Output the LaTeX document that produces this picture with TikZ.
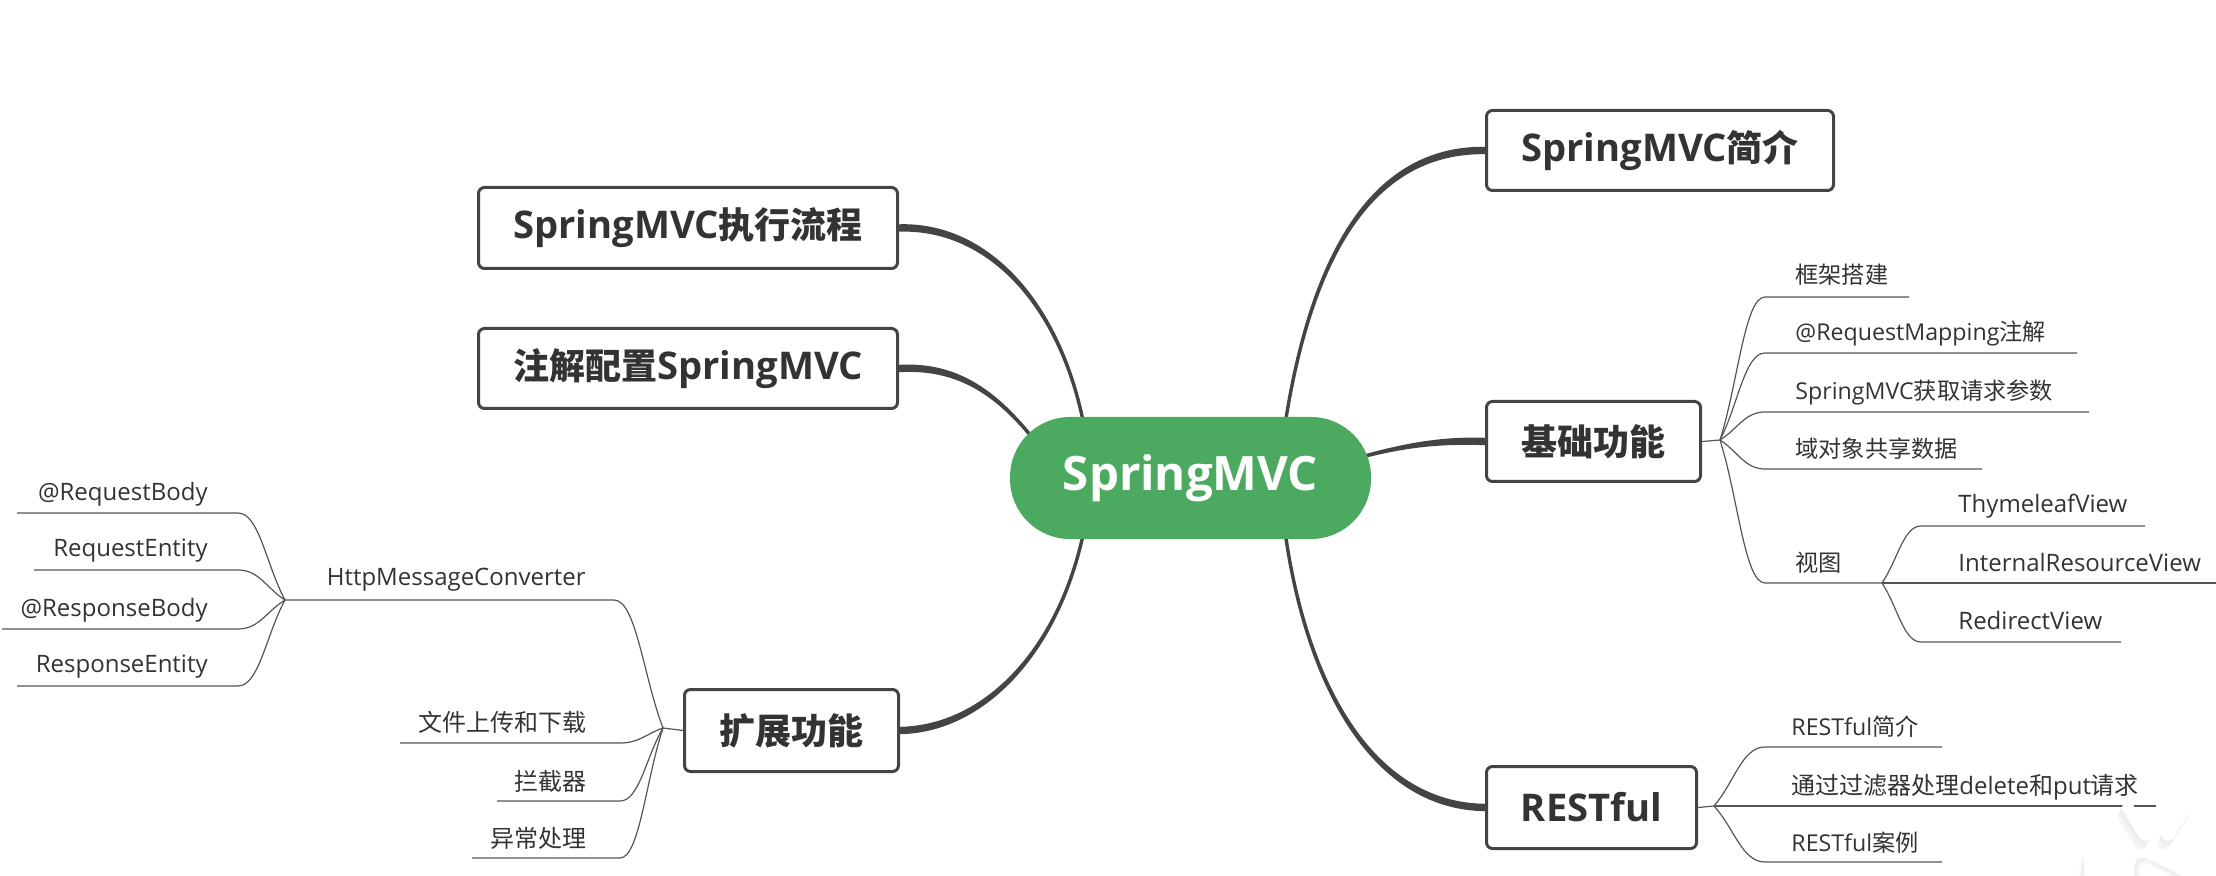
\documentclass[tikz,border=0pt]{standalone}
\usepackage{fontspec}
\setmainfont{Open Sans}
\newfontfamily\cjk{Noto Sans CJK SC}
\newfontfamily\lat[Scale=1.06]{Open Sans}
\usetikzlibrary{calc,backgrounds}
\definecolor{ink}{HTML}{333333}
\definecolor{rule}{HTML}{555555}
\definecolor{branchc}{HTML}{444444}
\definecolor{pill}{HTML}{4CAA60}
\tikzset{
  mainbox/.style={draw=branchc,line width=1.5pt,rounded corners=3pt,fill=white,text=ink,font=\fontsize{18}{20}\selectfont\bfseries,inner sep=0pt,anchor=north west},
  bigline/.style={draw=branchc,fill=branchc,line width=1.7pt,line join=round},
  thinline/.style={draw=rule,line width=0.6pt},
  leafl/.style={text=ink,font=\fontsize{11.6}{14}\selectfont,inner sep=0pt,anchor=west},
  leafr/.style={text=ink,font=\fontsize{11.6}{14}\selectfont,inner sep=0pt,anchor=east},
  latinsize/.style={font=\fontsize{12}{14}\selectfont},
}
\newcommand{\branchline}[3]{\draw[thinline] (#1) .. controls ($(#1)!.4!(#2)$) and ($(#2)!.45!(#2 -| #1)$) .. (#2) -- (#3);}
% tapered main connector: root point, two controls, box anchor
\newcommand{\taper}[4]{\draw[bigline] ($#1$) .. controls #2 and ($#3+(0,-2)$) .. ($(#4)+(0,-2)$) -- ($(#4)+(0,2)$) .. controls ($#3+(0,2)$) and #2 .. ($#1$) -- cycle;}
\begin{document}
\begin{tikzpicture}[x=0.5pt,y=-0.5pt]
\useasboundingbox (0,0) rectangle (2216,876);
% root
\node[fill=pill,rounded corners=30pt,minimum width=180.5pt,minimum height=61pt,inner sep=0pt,text=white,font=\fontsize{23.7}{26}\selectfont\bfseries] (root) at (1190.5,478) {SpringMVC};
% main boxes
\node[mainbox,minimum width=173.5pt,minimum height=40pt] (intro) at (1485,109) {\lat SpringMVC\cjk 简介};
\node[mainbox,minimum width=107pt,minimum height=40pt] (basic) at (1485,400) {\cjk 基础功能};
\node[mainbox,minimum width=105pt,minimum height=41pt] (rest) at (1485,765) {\lat RESTful};
\node[mainbox,minimum width=209.5pt,minimum height=40.5pt] (flow) at (477,186) {\lat SpringMVC\cjk 执行流程};
\node[mainbox,minimum width=209.5pt,minimum height=40pt] (anno) at (477,327) {\cjk 注解配置\lat SpringMVC};
\node[mainbox,minimum width=107pt,minimum height=41pt] (ext) at (683,688) {\cjk 扩展功能};
% main connectors
\begin{scope}[on background layer]
\taper{(root.center)+(-106,-50)}{(1060,300)}{(985,225)}{flow.east}
\taper{(root.center)+(-150,-30)}{(1000,395)}{(960,365)}{anno.east}
\taper{(root.center)+(94,-50)}{(1310,260)}{(1370,149)}{intro.west}
\taper{(root.center)+(150,-15)}{(1400,445)}{(1440,440)}{basic.west}
\taper{(root.center)+(-106,50)}{(1060,650)}{(985,729)}{ext.east}
\taper{(root.center)+(94,50)}{(1305,680)}{(1370,806)}{rest.west}
\end{scope}
% basic leaves
\coordinate (hb) at (1720,440);
\draw[thinline] (basic.east) -- (hb);
\coordinate (b1a) at (1765,297); \coordinate (b1b) at (1909,297);
\coordinate (b2a) at (1765,353); \coordinate (b2b) at (2077,353);
\coordinate (b3a) at (1765,412); \coordinate (b3b) at (2089,412);
\coordinate (b4a) at (1765,469); \coordinate (b4b) at (1982,469);
\coordinate (b5a) at (1765,583); \coordinate (hv) at (1882,583);
\node[leafl] (t1) at (1795,275) {\cjk 框架搭建};
\node[leafl] (t2) at (1795,333) {@RequestMapping\cjk 注解};
\node[leafl] (t3) at (1795,392) {SpringMVC\cjk 获取请求参数};
\node[leafl] (t4) at (1795,449) {\cjk 域对象共享数据};
\node[leafl] (t5) at (1795,563) {\cjk 视图};
\branchline{hb}{b1a}{b1b}
\branchline{hb}{b2a}{b2b}
\branchline{hb}{b3a}{b3b}
\branchline{hb}{b4a}{b4b}
\branchline{hb}{b5a}{hv}
\coordinate (v1a) at (1921,526); \coordinate (v1b) at (2145,526);
\coordinate (v2b) at (2216,583);
\coordinate (v3a) at (1921,642); \coordinate (v3b) at (2121,642);
\node[leafl,latinsize] (v1) at (1958,506) {ThymeleafView};
\node[leafl,latinsize] (v2) at (1958,563) {InternalResourceView};
\node[leafl,latinsize] (v3) at (1958,621) {RedirectView};
\branchline{hv}{v1a}{v1b}
\draw[thinline] (hv) -- (v2b);
\branchline{hv}{v3a}{v3b}
% rest leaves
\coordinate (hr) at (1714,806);
\draw[thinline] (rest.east) -- (hr);
\coordinate (r1a) at (1765,747); \coordinate (r1b) at (1942,747);
\coordinate (r2b) at (2156,806);
\coordinate (r3a) at (1765,862); \coordinate (r3b) at (1942,862);
\node[leafl] (rt1) at (1791,727) {RESTful\cjk 简介};
\node[leafl,latinsize] (rt2) at (1791,787) {\cjk 通过过滤器处理\rmfamily delete\cjk 和\rmfamily put\cjk 请求};
\node[leafl] (rt3) at (1791,843) {RESTful\cjk 案例};
\branchline{hr}{r1a}{r1b}
\draw[thinline] (hr) -- (r2b);
\branchline{hr}{r3a}{r3b}
% ext leaves
\coordinate (he) at (663,728);
\draw[thinline] (ext.west) -- (he);
\coordinate (e1a) at (614,600); \coordinate (hh) at (285,600);
\coordinate (e2a) at (620,743); \coordinate (e2b) at (400,743);
\coordinate (e3a) at (620,801); \coordinate (e3b) at (497,801);
\coordinate (e4a) at (620,858); \coordinate (e4b) at (472,858);
\node[leafr,latinsize] (et1) at (586,580) {HttpMessageConverter};
\node[leafr,latinsize] (et2) at (587,722) {\cjk 文件上传和下载};
\node[leafr,latinsize] (et3) at (587,781) {\cjk 拦截器};
\node[leafr,latinsize] (et4) at (587,838) {\cjk 异常处理};
\branchline{he}{e1a}{hh}
\branchline{he}{e2a}{e2b}
\branchline{he}{e3a}{e3b}
\branchline{he}{e4a}{e4b}
\coordinate (h1a) at (238,513); \coordinate (h1b) at (17,513);
\coordinate (h2a) at (238,570); \coordinate (h2b) at (34,570);
\coordinate (h3a) at (238,629); \coordinate (h3b) at (2,629);
\coordinate (h4a) at (238,686); \coordinate (h4b) at (17,686);
\node[leafr,latinsize] (ht1) at (208,494) {@RequestBody};
\node[leafr,latinsize] (ht2) at (208,551) {RequestEntity};
\node[leafr,latinsize] (ht3) at (208,610) {@ResponseBody};
\node[leafr,latinsize] (ht4) at (208,667) {ResponseEntity};
\branchline{hh}{h1a}{h1b}
\branchline{hh}{h2a}{h2b}
\branchline{hh}{h3a}{h3b}
\branchline{hh}{h4a}{h4b}
% corner watermark
\begin{scope}
\clip (2000,776) rectangle (2216,876);
\foreach \off/\grey in {9/97,6/95,3/93}{
  \begin{scope}[shift={(-\off*0.5,\off)}]
  \fill[black!\the\numexpr100-\grey\relax] (2084,900) -- (2084,850) arc[start angle=180,end angle=90,radius=27] -- (2260,823) -- (2260,900) -- cycle;
  \draw[black!\the\numexpr100-\grey\relax,line width=6pt,line cap=round] (2128,808) -- (2145,835);
  \draw[black!\the\numexpr100-\grey\relax,line width=6pt,line cap=round] (2186,808) -- (2168,835);
  \end{scope}
}
\fill[white] (2084,900) -- (2084,850) arc[start angle=180,end angle=90,radius=27] -- (2260,823) -- (2260,900) -- cycle;
\draw[white,line width=6pt,line cap=round] (2128,808) -- (2145,835);
\draw[white,line width=6pt,line cap=round] (2186,808) -- (2168,835);
\fill[black!6,rounded corners=8pt] (2134,900) -- (2134,852) -- (2190,880) -- (2200,900) -- cycle;
\fill[black!3,rounded corners=8pt] (2137,900) -- (2137,855) -- (2190,884) -- (2200,900) -- cycle;
\fill[white,rounded corners=8pt] (2140,900) -- (2140,858) -- (2190,888) -- (2200,900) -- cycle;
\end{scope}
\end{tikzpicture}
\end{document}
